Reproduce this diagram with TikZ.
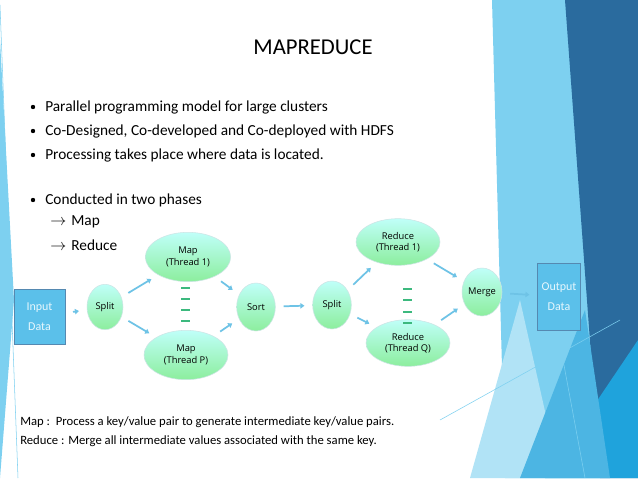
\documentclass[tikz,border=0pt]{standalone}
\usepackage{fontspec}
\setmainfont{Carlito}
\newfontfamily\nodefont{Open Sans}
\usetikzlibrary{shapes.geometric,arrows.meta}
\definecolor{lb}{HTML}{7DD0F0}
\definecolor{db}{HTML}{2A6B9E}
\definecolor{mb}{HTML}{1FA3DC}
\definecolor{boxc}{HTML}{5BC0EA}
\definecolor{arr}{HTML}{6EC3E6}
\definecolor{dashgreen}{HTML}{3CB97E}
\tikzset{
 el/.style={ellipse,draw=white!80!teal,top color=green!10!cyan!25,bottom color=teal!30!green!45,inner sep=0pt,font=\nodefont\fontsize{7}{8.5}\selectfont,align=center},
 bx/.style={rectangle,draw=db!80,fill=boxc,text=white!90!cyan,font=\fontsize{9}{15}\selectfont,align=center,inner sep=0pt},
 ar/.style={-{Triangle[length=3pt,width=4pt]},draw=arr,line width=1.3pt,shorten >=6pt,shorten <=6pt},
 dsh/.style={draw=dashgreen,line width=2.2pt},
 bul/.style={anchor=west,font=\fontsize{11.5}{13}\selectfont,inner sep=0pt}
}
\begin{document}
\begin{tikzpicture}[x=0.75pt,y=-0.75pt]
\useasboundingbox (0,0) rectangle (638,478);
\fill[white] (0,0) rectangle (638,478);
% decorations right
\fill[lb] (492,0) -- (568,0) -- (600,478) -- (505,478) -- cycle;
\fill[lb!60] (520,300) -- (560,478) -- (470,478) -- cycle;
\fill[db] (565,0) -- (638,0) -- (638,478) -- (600,478) -- cycle;
\fill[mb] (638,340) -- (638,478) -- (545,478) -- cycle;
\fill[mb!80] (585,310) -- (610,478) -- (520,478) -- cycle;
\draw[lb,line width=0.4pt] (496,0) -- (585,478);
\draw[lb,line width=0.4pt] (440,420) -- (620,320);
% left
\fill[lb] (0,40) -- (14,300) -- (0,478) -- cycle;
\draw[lb,line width=0.4pt] (0,5) -- (18,478);
% title and text
\node[font=\fontsize{17}{20}\selectfont] (title) at (313,47) {MAPREDUCE};
\foreach \y/\t [count=\i] in {107/Parallel programming model for large clusters,131/{Co-Designed, Co-developed and Co-deployed with HDFS},155/Processing takes place where data is located.,200/Conducted in two phases}{
 \node[bul] (b\i) at (45,\y) {\t};
 \fill (33,\y) circle (2.2);
}
\node[bul] (s1) at (50,222) {$\rightarrow$\,\,Map};
\node[bul] (s2) at (50,245) {$\rightarrow$\,\,Reduce};
\node[bul,font=\fontsize{9.5}{11}\selectfont] (f1) at (20,422) {Map :\ \ Process a key/value pair to generate intermediate key/value pairs.};
\node[bul,font=\fontsize{9.5}{11}\selectfont] (f2) at (20,441) {Reduce : Merge all intermediate values associated with the same key.};
% diagram
\node[bx,minimum width=38pt,minimum height=41pt] (in) at (39.5,317) {Input\\Data};
\node[el,minimum width=27pt,minimum height=34pt] (sp1) at (105,307) {Split};
\node[el,minimum width=64pt,minimum height=37pt] (m1) at (188,257) {Map\\(Thread 1)};
\node[el,minimum width=63pt,minimum height=37pt] (mp) at (186,355) {Map\\(Thread P)};
\node[el,minimum width=29pt,minimum height=36pt] (so) at (256,307) {Sort};
\node[el,minimum width=29pt,minimum height=36pt] (sp2) at (332,305) {Split};
\node[el,minimum width=63pt,minimum height=35pt] (r1) at (398,242) {Reduce\\(Thread 1)};
\node[el,minimum width=63pt,minimum height=35pt] (rq) at (408,343) {Reduce\\(Thread Q)};
\node[el,minimum width=30pt,minimum height=36pt] (me) at (482,292) {Merge};
\node[bx,minimum width=32pt,minimum height=50pt] (out) at (559,296.5) {Output\\Data};
\foreach \y in {288,299,310,321}{\draw[dsh] (181,\y) -- (190,\y);}
\foreach \y in {289,300,312,323}{\draw[dsh] (403,\y) -- (412,\y);}
\draw[ar] (in) -- (sp1);
\draw[ar] (sp1) -- (m1);
\draw[ar] (sp1) -- (mp);
\draw[ar] (m1) -- (so);
\draw[ar] (mp) -- (so);
\draw[ar] (so) -- (sp2);
\draw[ar] (sp2) -- (r1);
\draw[ar] (sp2) -- (rq);
\draw[ar] (r1) -- (me);
\draw[ar] (rq) -- (me);
\draw[ar] (me) -- (out);
\end{tikzpicture}
\end{document}
